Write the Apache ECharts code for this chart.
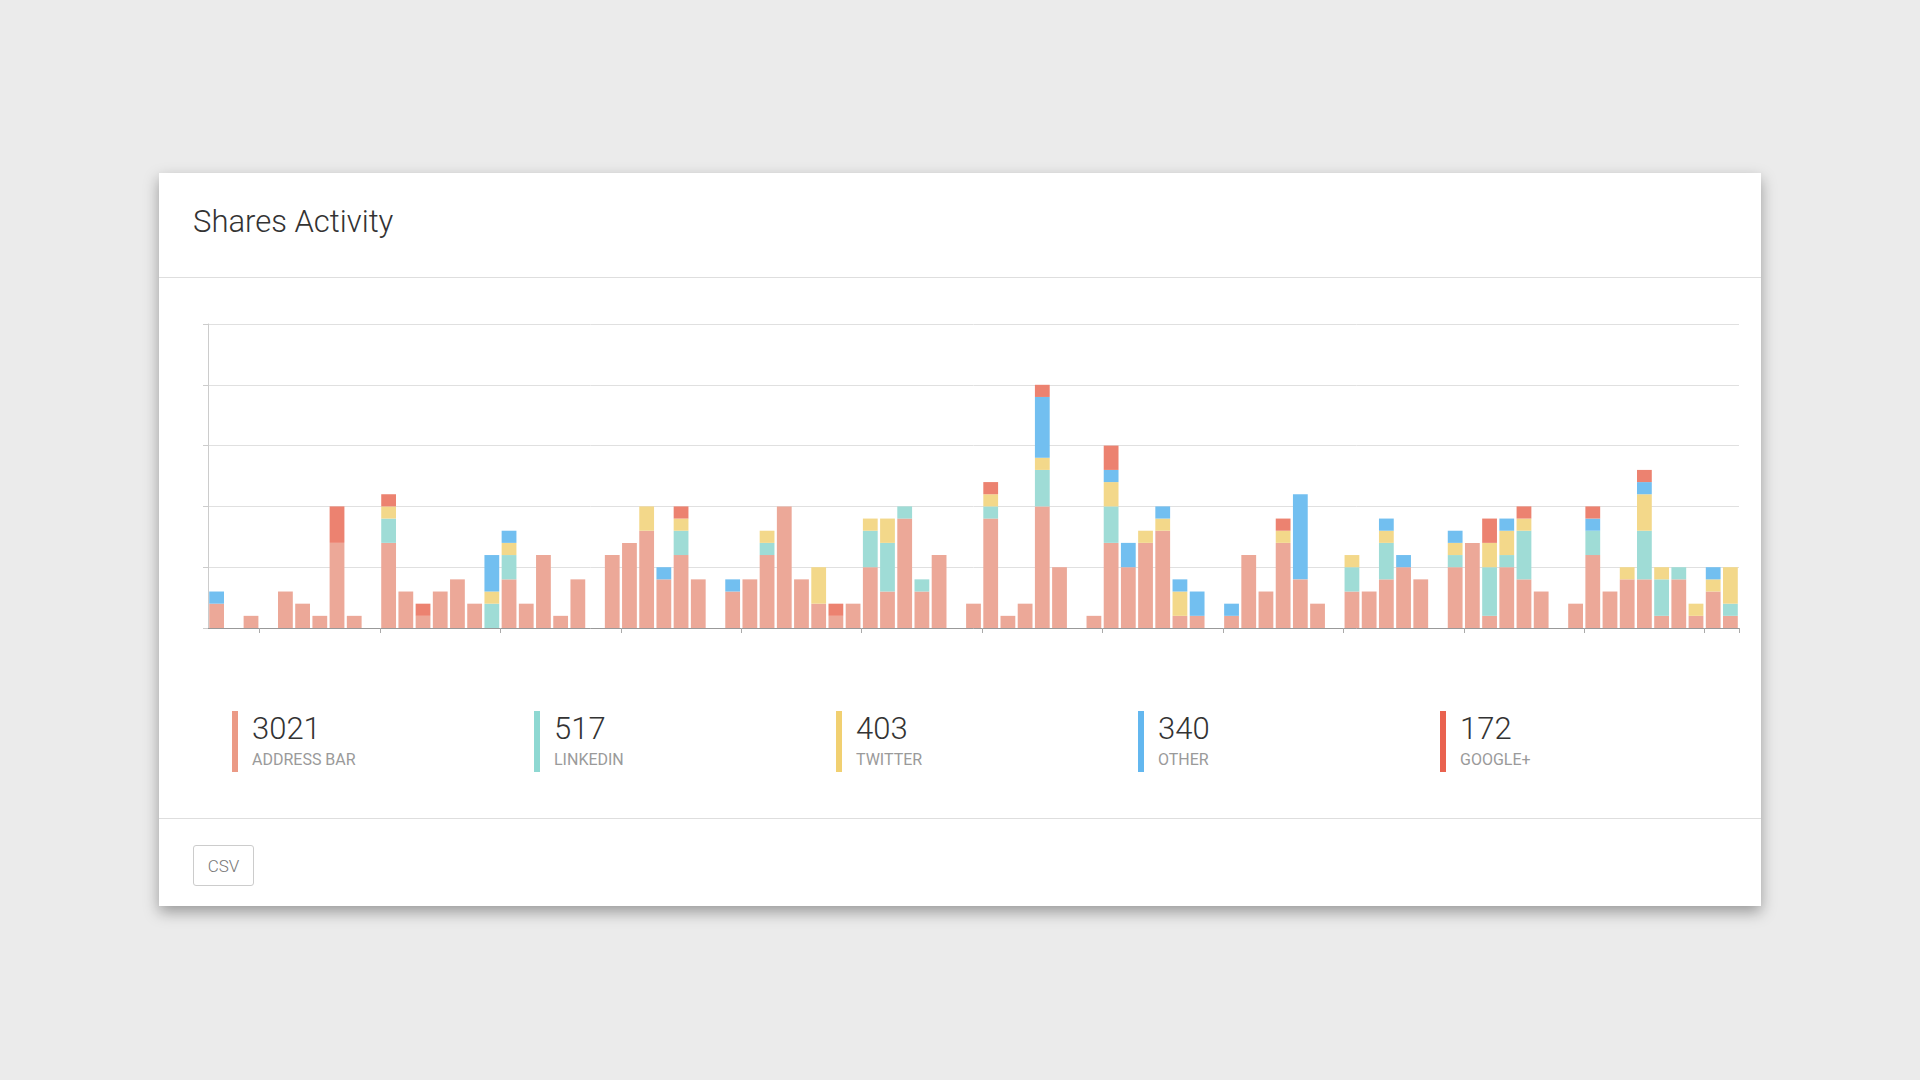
<!DOCTYPE html>
<html><head><meta charset="utf-8">
<script src="https://cdn.jsdelivr.net/npm/echarts@6/dist/echarts.min.js"></script>
<style>
html,body{margin:0;padding:0;width:1920px;height:1080px;background:#ebebeb;font-family:Roboto,"Noto Sans",sans-serif;overflow:hidden}
#card{position:absolute;left:159px;top:173px;width:1602px;height:733px;background:#fff;box-shadow:0 6px 14px rgba(0,0,0,0.35)}
#title{position:absolute;left:34px;top:30px;font-size:31px;font-weight:300;color:#333}
.hr{position:absolute;left:0;width:100%;height:1px;background:#dedede}
.stat{position:absolute;top:538px;height:61px;border-left:6px solid #000;padding-left:14px}
.num{font-size:31px;color:#333;line-height:31px;margin-top:2px;font-weight:300}
.lab{font-size:16px;color:#9a9a9a;margin-top:6px;font-weight:400}
#csv{position:absolute;left:34px;top:672px;width:61px;height:41px;border:1px solid #ccc;border-radius:3px;color:#777;font-size:17px;line-height:40px;text-align:center;box-sizing:border-box;font-weight:300}
#chart{position:absolute;left:0;top:0;width:1920px;height:1080px}
</style></head>
<body>
<div id="card">
<div id="title">Shares Activity</div>
<div class="hr" style="top:104px"></div>
<div id="stats"></div>
<div class="hr" style="top:645px"></div>
<div id="csv">CSV</div>
</div>
<div id="chart"></div>
<script>
const categories = Array.from({length:89},(_,i)=>'Day '+(i+1));
const addressBar = [2,0,1,0,3,2,1,7,1,0,7,3,1,3,4,2,0,4,2,6,1,4,0,6,7,8,4,6,4,0,3,4,6,10,4,2,1,2,5,3,9,3,6,0,2,9,1,2,10,5,0,1,7,5,7,8,1,1,0,1,6,3,7,4,2,0,3,3,4,5,4,0,5,7,1,5,4,3,0,2,6,3,4,4,1,4,1,3,1];
const linkedin   = [0,0,0,0,0,0,0,0,0,0,2,0,0,0,0,0,2,2,0,0,0,0,0,0,0,0,0,2,0,0,0,0,1,0,0,0,0,0,3,4,1,1,0,0,0,1,0,0,3,0,0,0,3,0,0,0,0,0,0,0,0,0,0,0,0,0,2,0,3,0,0,0,1,0,4,1,4,0,0,0,2,0,0,4,3,1,0,0,1];
const twitter    = [0,0,0,0,0,0,0,0,0,0,1,0,0,0,0,0,1,1,0,0,0,0,0,0,0,2,0,1,0,0,0,0,1,0,0,3,0,0,1,2,0,0,0,0,0,1,0,0,1,0,0,0,2,0,1,1,2,0,0,0,0,0,1,0,0,0,1,0,1,0,0,0,1,0,2,2,1,0,0,0,0,0,1,3,1,0,1,1,3];
const other      = [1,0,0,0,0,0,0,0,0,0,0,0,0,0,0,0,3,1,0,0,0,0,0,0,0,0,1,0,0,0,1,0,0,0,0,0,0,0,0,0,0,0,0,0,0,0,0,0,5,0,0,0,1,2,0,1,1,2,0,1,0,0,0,7,0,0,0,0,1,1,0,0,1,0,0,1,0,0,0,0,1,0,0,1,0,0,0,1,0];
const googlePlus = [0,0,0,0,0,0,0,3,0,0,1,0,1,0,0,0,0,0,0,0,0,0,0,0,0,0,0,1,0,0,0,0,0,0,0,0,1,0,0,0,0,0,0,0,0,1,0,0,1,0,0,0,2,0,0,0,0,0,0,0,0,0,1,0,0,0,0,0,0,0,0,0,0,0,2,0,1,0,0,0,1,0,0,1,0,0,0,0,0];
const seriesNames = ['ADDRESS BAR','LINKEDIN','TWITTER','OTHER','GOOGLE+'];
const totals = [3021,517,403,340,172];
const barColors = ['#eca898','#9fdcd6','#f3d88a','#72bff0','#ec8270'];
const legendColors = ['#eb9a86','#8ed8d2','#f1d071','#63b7ef','#e9624f'];

const stats = document.getElementById('stats');
seriesNames.forEach((n,i)=>{
  const d=document.createElement('div');d.className='stat';
  d.style.left=(73+i*302)+'px';d.style.borderLeftColor=legendColors[i];
  d.innerHTML='<div class="num">'+totals[i]+'</div><div class="lab">'+n+'</div>';
  stats.appendChild(d);
});

const data=[addressBar,linkedin,twitter,other,googlePlus];
const chart=echarts.init(document.getElementById('chart'),null,{renderer:'canvas'});
chart.setOption({
  animation:false,
  grid:{left:208,right:181,top:324,bottom:452},
  xAxis:{type:'category',data:categories,
    axisLine:{lineStyle:{color:'#999',width:1}},
    axisTick:{show:true,length:5,lineStyle:{color:'#aaa'},interval:(i)=>i%7===3},
    axisLabel:{show:false}},
  yAxis:{type:'value',min:0,max:25,interval:5,
    axisLine:{show:true,lineStyle:{color:'#ccc'}},
    axisTick:{show:true,length:5,lineStyle:{color:'#ccc'}},
    axisLabel:{show:false},
    splitLine:{lineStyle:{color:'#e0e0e0'}}},
  series:data.map((d,i)=>({name:seriesNames[i],type:'bar',stack:'s',data:d,
    barCategoryGap:'14%',itemStyle:{color:barColors[i]}}))
});
</script>
</body></html>
